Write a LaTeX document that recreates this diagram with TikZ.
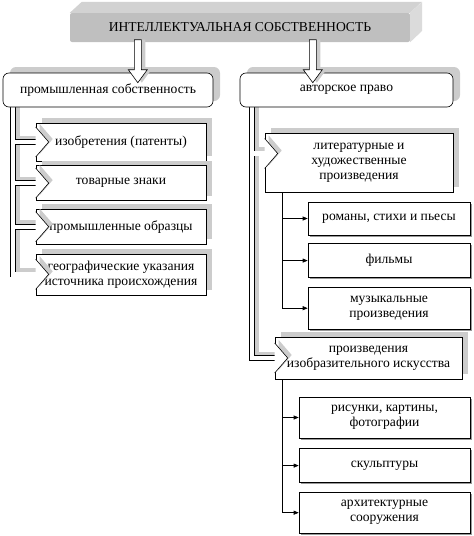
\documentclass[tikz,border=0pt]{standalone}
\usepackage{fontspec}
\setmainfont{Liberation Serif}
\usetikzlibrary{positioning,shadows,backgrounds,arrows.meta}

\begin{document}
\begin{tikzpicture}[x=1pt, y=-1pt,
    every node/.style={font=\fontsize{13.6}{15}\selectfont, align=center, inner sep=1pt},
    topbox/.style={fill=gray!50, rounded corners=2pt, minimum width=340pt, minimum height=29pt},
    mainbox/.style={draw, fill=white, rounded corners=6pt, line width=0.6pt,
        drop shadow={shadow xshift=7pt, shadow yshift=6pt, fill=gray!40, opacity=1}},
    subbox/.style={draw, fill=white, line width=0.6pt,
        drop shadow={shadow xshift=6pt, shadow yshift=5pt, fill=gray!40, opacity=1}},
    leafbox/.style={draw, fill=white, line width=0.6pt,
        drop shadow={shadow xshift=1.5pt, shadow yshift=-1.5pt, fill=gray!80, opacity=1}},
    leafarrow/.style={-{Triangle[length=5pt, width=4pt]}, line width=0.6pt},
    connshadow/.style={gray!40, line width=5pt},
    connouter/.style={black, line width=5.6pt},
    conninner/.style={white, line width=4.4pt}]
\useasboundingbox (0,0) rectangle (474,536);

% top
\node (ip) [topbox] at (240,27.5) {ИНТЕЛЛЕКТУАЛЬНАЯ СОБСТВЕННОСТЬ};
\fill[gray!35] (ip.north west) -- ++(12,-11) -- ++(340,0) -- (ip.north east) -- cycle;
\fill[gray!28] (ip.north east) -- ++(12,-11) -- ++(0,29) -- (ip.south east) -- cycle;

% second level
\node (ind) [mainbox, minimum width=210pt, minimum height=34pt] at (108,90) {промышленная собственность};
\node (cr) [mainbox, minimum width=213pt, minimum height=34pt] at (346.5,90) {авторское право};

% industrial property
\node (inv) [subbox, minimum width=170pt, minimum height=38pt] at (121,142) {изобретения (патенты)};
\node (tm) [subbox, minimum width=170pt, minimum height=35pt, below=4pt of inv] {товарные знаки};
\node (des) [subbox, minimum width=170pt, minimum height=35pt, below=8pt of tm] {промышленные образцы};
\node (geo) [subbox, minimum width=170pt, minimum height=41pt, below=9pt of des] {географические указания\\источника происхождения};

% copyright
\node (lit) [subbox, minimum width=188pt, minimum height=59pt] at (359,162.5) {литературные и\\художественные\\произведения};
\node (nov) [leafbox, minimum width=162pt, minimum height=33pt] at (389,218.5) {романы, стихи и пьесы};
\node (film) [leafbox, minimum width=162pt, minimum height=34pt, below=8pt of nov] {фильмы};
\node (mus) [leafbox, minimum width=162pt, minimum height=42pt, below=9pt of film] {музыкальные\\произведения};
\node (art) [subbox, minimum width=187pt, minimum height=42pt] at (368.5,358) {произведения\\изобразительного искусства};
\node (paint) [leafbox, minimum width=171pt, minimum height=41pt] at (384.5,417.5) {рисунки, картины,\\фотографии};
\node (scu) [leafbox, minimum width=171pt, minimum height=34pt, below=10pt of paint] {скульптуры};
\node (arch) [leafbox, minimum width=171pt, minimum height=41pt, below=9pt of scu] {архитектурные\\сооружения};

% hollow elbow connectors
\begin{scope}[on background layer]
  \foreach \c in {inv,tm,des,geo}
    \draw[connshadow] ([shift={(15,-4)}]ind.south west) |- ([yshift=4pt]\c.west);
  \foreach \c/\d in {lit/9,art/0}
    \draw[connshadow] ([shift={(17,-4)}]cr.south west) |- ([yshift=4pt+\d pt]\c.west);
  \foreach \c in {inv,tm,des,geo}
    \draw[connouter] ([xshift=10pt]ind.south west) |- (\c.west);
  \foreach \c/\d in {lit/9,art/0}
    \draw[connouter] ([xshift=12pt]cr.south west) |- ([yshift=\d pt]\c.west);
  \foreach \c in {inv,tm,des,geo}
    \draw[conninner] ([xshift=10pt]ind.south west) |- (\c.west);
  \foreach \c/\d in {lit/9,art/0}
    \draw[conninner] ([xshift=12pt]cr.south west) |- ([yshift=\d pt]\c.west);
\end{scope}

% chevron heads
\foreach \c/\d in {inv/0,tm/0,des/0,geo/0,lit/9,art/0}{
  \fill[gray!40] ([shift={(4,-3-\d)}]\c.west) ++(0,-15) -- ++(13,15) -- ++(-13,15) -- cycle;
  \filldraw[fill=white, line width=0.6pt] ([yshift=\d pt]\c.west) ++(0,-15) -- ++(13,15) -- ++(-13,15);
}

% hollow arrows from the top
\path (ip.south west) ++(68,0) coordinate (s1);
\path (ip.south west) ++(243,0) coordinate (s2);
\path (s1 |- ind.north) ++(0,10) coordinate (t1);
\path (s2 |- cr.north) ++(0,10) coordinate (t2);
\foreach \t in {t1,t2}{
  \fill[gray!40] ([xshift=4pt]\t) -- ++(-9.5,-13) -- ++(6,0) -- ++(0,-30) -- ++(7,0) -- ++(0,30) -- ++(6,0) -- cycle;
  \filldraw[fill=white, line width=0.6pt] (\t) -- ++(-9.5,-13) -- ++(6,0) -- ++(0,-30) -- ++(7,0) -- ++(0,30) -- ++(6,0) -- cycle;
}

% thin arrows to the leaves
\foreach \c in {nov,film,mus}
  \draw[leafarrow] ([xshift=18pt]lit.south west) |- (\c.west);
\foreach \c in {paint,scu,arch}
  \draw[leafarrow] ([xshift=8pt]art.south west) |- (\c.west);
\end{tikzpicture}
\end{document}
